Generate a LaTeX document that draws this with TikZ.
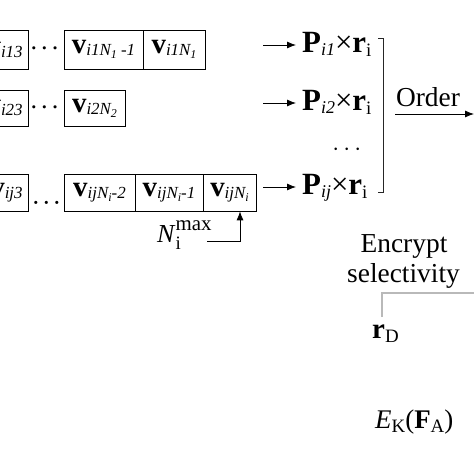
\documentclass[tikz,border=0pt]{standalone}
\usepackage{amsmath}
\usepackage{fontspec}
\setmainfont{Liberation Serif}
\usetikzlibrary{arrows.meta}
\newcommand\vsub[1]{\raisebox{-2bp}{\fontsize{17}{17}\selectfont\itshape #1}}
\newcommand\psub[1]{\raisebox{-3bp}{\fontsize{18}{18}\selectfont\itshape #1}}
\newcommand\ssub[1]{\raisebox{-3bp}{\fontsize{12}{12}\selectfont\itshape #1}}
\newcommand\rsub[1]{\raisebox{-4bp}{\fontsize{19}{19}\selectfont #1}}
\tikzset{
  every node/.style={font=\fontsize{29}{34}\selectfont, inner sep=0pt},
  cell/.style={draw, line width=0.7bp, inner xsep=4bp},
  firstcell/.style={draw, line width=0.7bp, anchor=east, text width=70bp, align=right, inner xsep=6bp},
  arr/.style={line width=0.8bp, -{Latex[length=9bp,width=7bp]}},
  brk/.style={line width=0.8bp, black!85},
  txt/.style={font=\fontsize{27.5}{30}\selectfont},
  prod/.style={anchor=base west, font=\fontsize{31}{34}\selectfont},
  dots/.style={font=\fontsize{22}{26}\selectfont},
}
\begin{document}
\begin{tikzpicture}[x=1bp,y=-1bp]
\useasboundingbox (0,0) rectangle (474,474);
% row 1
\node[firstcell, minimum height=39bp] (f1) at (29,49.5) {\textbf{v}\vsub{i13}};
\node[dots] (d1) at (46.5,49) {$\boldsymbol{\cdots}$};
\node[cell, minimum width=79bp, minimum height=39bp] (a1) at (103.5,49.5) {\textbf{v}\vsub{i1N\ssub{1} -1}};
\node[cell, minimum width=62bp, minimum height=39bp] (b1) at (174,49.5) {\textbf{v}\vsub{i1N\ssub{1}}};
% row 2
\node[firstcell, minimum height=36bp] (f2) at (29,108) {\textbf{v}\vsub{i23}};
\node[dots] (d2) at (46.5,108) {$\boldsymbol{\cdots}$};
\node[cell, minimum width=61bp, minimum height=36bp] (a2) at (94.5,108) {\textbf{v}\vsub{i2N\ssub{2}}};
% row 3
\node[firstcell, minimum height=37bp] (f3) at (29,192.5) {\textbf{v}\vsub{ij3}};
\node[dots, anchor=base] (d3) at (46.5,205) {$\boldsymbol{\ldots}$};
\node[cell, minimum width=71bp, minimum height=37bp] (a3) at (99.5,192.5) {\textbf{v}\vsub{ijN\ssub{i}-2}};
\node[cell, minimum width=68bp, minimum height=37bp] (b3) at (169,192.5) {\textbf{v}\vsub{ijN\ssub{i}-1}};
\node[cell, minimum width=53bp, minimum height=37bp] (c3) at (229.5,192.5) {\textbf{v}\vsub{ijN\ssub{i}}};
% N_i^max
\node[anchor=base west, font=\fontsize{26}{30}\selectfont] (nmax) at (157,242)
  {\textit{N}\rlap{\raisebox{-7bp}{\fontsize{19}{19}\selectfont i}}\raisebox{11bp}{\fontsize{21}{21}\selectfont max}};
\coordinate (n1) at (207,241);
\coordinate (n2) at (240,241);
\draw[arr] (n1) -- (n2) -- (n2 |- c3.south);
% products
\node[prod] (p1) at (302,53) {\textbf{P}\psub{i1}×\textbf{r}\rsub{i}};
\node[prod] (p2) at (302,111) {\textbf{P}\psub{i2}×\textbf{r}\rsub{i}};
\node (pd) at (349,150) {$\cdots$};
\node[prod] (p3) at (302,195) {\textbf{P}\psub{ij}×\textbf{r}\rsub{i}};
\coordinate (s1) at (263,45);
\coordinate (s2) at (263,103);
\coordinate (s3) at (263,187);
\draw[arr] (s1) -- ([xshift=-6bp]s1 -| p1.west);
\draw[arr] (s2) -- ([xshift=-6bp]s2 -| p2.west);
\draw[arr] (s3) -- ([xshift=-6bp]s3 -| p3.west);
% bracket
\coordinate (bt) at (383,38);
\coordinate (bb) at (383,192);
\draw[brk] ([xshift=-5bp]bt) -- (bt) -- (bb) -- ([xshift=-5bp]bb);
% order
\coordinate (o1) at (395,114);
\coordinate (o2) at (474,114);
\draw[arr] (o1) -- (o2);
\node[txt, anchor=base] (order) at (428,107) {Order};
% encrypt selectivity
\node[txt, anchor=base] (enc1) at (404,252) {Encrypt};
\node[txt, anchor=base] (enc2) at (403.5,282) {selectivity};
\coordinate (g1) at (382,317);
\coordinate (g2) at (382,293);
\coordinate (g3) at (474,293);
\draw[gray!55, line width=1.4bp] (g1) -- (g2) -- (g3);
\node[anchor=base west] (rd) at (372,338) {\textbf{r}\rsub{D}};
\node[anchor=base west, font=\fontsize{27}{30}\selectfont] (ek) at (375,428)
  {\textit{E}\rsub{K}(\textbf{F}\rsub{A})};
\end{tikzpicture}
\end{document}
